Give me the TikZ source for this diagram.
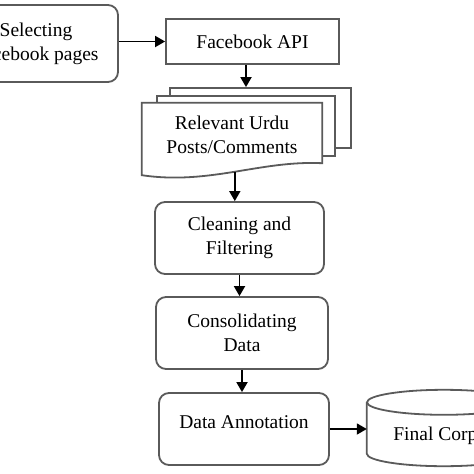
\documentclass[tikz,border=0pt]{standalone}
\usepackage{fontspec}
\setmainfont{Liberation Serif}
\usetikzlibrary{arrows.meta,positioning,calc}
\definecolor{edgegray}{HTML}{5A5A5A}
\tikzset{stepbox/.style={draw=edgegray,line width=1.8pt,rounded corners=10pt,align=center,inner sep=0pt,font=\fontsize{19.5}{24}\selectfont,fill=white},
  apibox/.style={stepbox,rounded corners=0pt},
  sheet/.style={draw=edgegray,line width=1.8pt,fill=white},
  flow/.style={-{Triangle[length=10pt,width=11pt]},line width=1.8pt}}

\begin{document}
\begin{tikzpicture}[x=1pt,y=-1pt]
\useasboundingbox (0,0) rectangle (474,474);
\clip (0,0) rectangle (474,474);
\node[stepbox,minimum width=164,minimum height=77] (sel) at (36,43.5) {Selecting\\Facebook pages};
\node[apibox,minimum width=173,minimum height=45] (api) at (252.5,41.5) {Facebook API};
% stack of documents
\node[sheet,inner sep=0pt,minimum width=181,minimum height=60] (sheetB) at (260.5,118) {};
\node[sheet,inner sep=0pt,minimum width=178,minimum height=60] (sheetM) at (246,126) {};
\node[fill=white,inner sep=0pt,minimum width=180,minimum height=64,align=center,font=\fontsize{19.5}{24}\selectfont] (posts) at (232,135) {Relevant Urdu\\Posts/Comments};
\draw[sheet,fill=none] (posts.north west) -- (posts.north east) -- ($(posts.south east)+(0,-4)$)
 .. controls ($(posts.south east)+(-62,-7)$) and ($(posts.south west)+(68,18)$) .. ($(posts.south west)+(0,8)$) -- cycle;
\coordinate (wave) at ($(posts.south west)+(93,5)$);
\node[stepbox,minimum width=169,minimum height=72] (clean) at (239.5,238) {Cleaning and\\Filtering};
\node[stepbox,minimum width=172,minimum height=72] (consol) at (242,333) {Consolidating\\Data};
\node[stepbox,minimum width=170,minimum height=72,text depth=14pt] (annot) at (244,429) {Data Annotation};
% database drum
\node[inner sep=0pt,minimum width=154,minimum height=76,text height=29pt,font=\fontsize{19.5}{24}\selectfont] (corpus) at (444,428) {Final Corpus};
\draw[sheet,fill=none] ($(corpus.north west)+(0,12.5)$) -- ($(corpus.south west)+(0,-12.5)$)
 arc[start angle=180,end angle=360,x radius=77pt,y radius=12.5pt] -- ($(corpus.north east)+(0,12.5)$);
\draw[sheet,fill=none] ($(corpus.north)+(0,12.5)$) ellipse[x radius=77pt,y radius=12.5pt];
% connectors
\draw[flow] (sel.east |- api.west) -- (api.west);
\draw[flow] (api.south -| sheetM.north) -- (sheetM.north |- sheetB.north);
\draw[flow] (wave) -- (wave |- clean.north);
\draw[flow] (clean.south) -- (clean.south |- consol.north);
\draw[flow] (consol.south) -- (consol.south |- annot.north);
\draw[flow] (annot.east) -- (annot.east -| corpus.west);
\end{tikzpicture}
\end{document}
